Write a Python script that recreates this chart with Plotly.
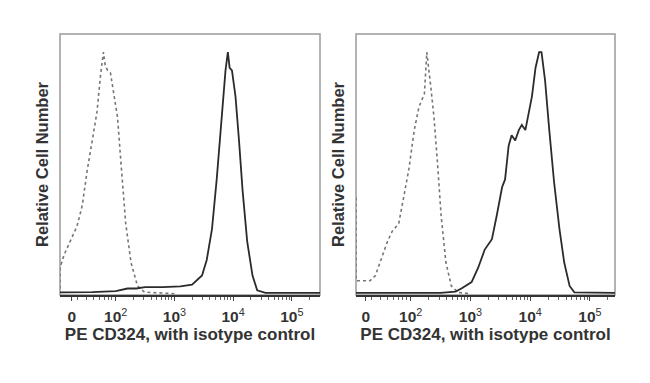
import plotly.graph_objects as go

# x positions in display decades (0 shown at ~1.25, 10^2 at 2, ... 10^5 at 5)
left_iso_x = [1.05, 1.051, 1.12, 1.22, 1.34, 1.43, 1.51, 1.60, 1.68, 1.74, 1.79, 1.82, 1.86, 1.91, 1.97, 2.03, 2.09, 2.17, 2.26, 2.37, 2.49, 2.7, 3.0]
left_iso_y = [0.02, 0.10, 0.15, 0.20, 0.26, 0.34, 0.47, 0.59, 0.70, 0.84, 0.93, 0.88, 0.86, 0.85, 0.77, 0.68, 0.50, 0.27, 0.12, 0.03, 0.006, 0.003, 0.0]

left_pe_x = [1.05, 1.6, 2.0, 2.2, 2.35, 2.5, 2.8, 3.1, 3.3, 3.35, 3.47, 3.55, 3.64, 3.72, 3.81, 3.87, 3.91, 3.94, 3.98, 4.04, 4.10, 4.16, 4.24, 4.33, 4.41, 4.55, 5.48]
left_pe_y = [0.005, 0.006, 0.01, 0.02, 0.02, 0.025, 0.025, 0.028, 0.035, 0.045, 0.07, 0.13, 0.25, 0.44, 0.68, 0.86, 0.93, 0.87, 0.86, 0.76, 0.59, 0.40, 0.20, 0.07, 0.013, 0.003, 0.003]

right_iso_x = [1.085, 1.086, 1.10, 1.32, 1.41, 1.49, 1.61, 1.69, 1.80, 1.89, 1.97, 2.06, 2.14, 2.23, 2.27, 2.34, 2.39, 2.45, 2.51, 2.59, 2.68, 2.79, 3.0]
right_iso_y = [0.37, 0.05, 0.05, 0.05, 0.07, 0.12, 0.20, 0.24, 0.27, 0.38, 0.48, 0.63, 0.72, 0.77, 0.93, 0.79, 0.68, 0.50, 0.30, 0.12, 0.03, 0.005, 0.0]

right_pe_x = [1.085, 2.5, 2.75, 2.85, 3.02, 3.13, 3.24, 3.36, 3.44, 3.53, 3.58, 3.64, 3.69, 3.75, 3.81, 3.86, 3.92, 3.98, 4.03, 4.09, 4.15, 4.19, 4.25, 4.32, 4.40, 4.49, 4.57, 4.66, 4.74, 5.42]
right_pe_y = [0.003, 0.003, 0.008, 0.02, 0.045, 0.10, 0.17, 0.21, 0.30, 0.41, 0.44, 0.57, 0.61, 0.59, 0.63, 0.65, 0.63, 0.70, 0.76, 0.87, 0.93, 0.93, 0.82, 0.63, 0.43, 0.25, 0.12, 0.03, 0.005, 0.003]

tick_vals = [1.25, 2, 3, 4, 5]
tick_text = ["<b>0</b>", "<b>10</b><sup>2</sup>", "<b>10</b><sup>3</sup>", "<b>10</b><sup>4</sup>", "<b>10</b><sup>5</sup>"]
minor_vals = [1.35, 1.5, 1.62, 1.72, 1.8, 1.87, 1.93] + [d + v for d in (2, 3, 4) for v in (0.301, 0.477, 0.602, 0.699, 0.778, 0.845, 0.903, 0.954)] + [5.301]

x_title = "PE CD324, with isotype control"
y_title = "Relative Cell Number"

fig = go.Figure()
dark = "#2b2b2b"
iso_col = "#767676"
fig.add_trace(go.Scatter(x=left_iso_x, y=left_iso_y, mode="lines", line=dict(color=iso_col, width=1.6, dash="dot"), xaxis="x", yaxis="y"))
fig.add_trace(go.Scatter(x=left_pe_x, y=left_pe_y, mode="lines", line=dict(color=dark, width=1.8), xaxis="x", yaxis="y"))
fig.add_trace(go.Scatter(x=right_iso_x, y=right_iso_y, mode="lines", line=dict(color=iso_col, width=1.6, dash="dot"), xaxis="x2", yaxis="y2"))
fig.add_trace(go.Scatter(x=right_pe_x, y=right_pe_y, mode="lines", line=dict(color=dark, width=1.8), xaxis="x2", yaxis="y2"))

font = dict(family="Liberation Sans, Arial, sans-serif", color="#333333")

def xaxis(domain, rng, anchor):
    return dict(domain=domain, range=rng, anchor=anchor, tickmode="array", tickvals=tick_vals, ticktext=tick_text,
                ticks="outside", ticklen=4, tickcolor="#444", tickwidth=1, showgrid=False, zeroline=False,
                showline=True, linecolor="#333", linewidth=1.5, mirror=False,
                tickfont=dict(size=15.5, **font), ticklabelstandoff=3,
                minor=dict(tickvals=minor_vals, ticks="outside", ticklen=3, tickcolor="#666", tickwidth=1, showgrid=False),
                title=dict(text="<b>" + x_title + "</b>", font=dict(size=17, **font), standoff=0))

def yaxis(domain, anchor):
    return dict(domain=domain, range=[-0.005, 1.0], anchor=anchor, showticklabels=False, ticks="", showgrid=False,
                zeroline=False, showline=False,
                title=dict(text="<b>" + y_title + "</b>", font=dict(size=16.5, **font), standoff=6))

ydom = [1 - 295 / 383, 1 - 34 / 383]
fig.update_layout(
    width=650, height=383, margin=dict(l=0, r=0, t=0, b=0),
    paper_bgcolor="white", plot_bgcolor="white", showlegend=False,
    xaxis=xaxis([60 / 650, 320 / 650], [1.05, 5.48], "y"),
    yaxis=yaxis(ydom, "x"),
    xaxis2=xaxis([356 / 650, 615 / 650], [1.085, 5.42], "y2"),
    yaxis2=yaxis(ydom, "x2"),
)
for xr, yr in (("x", "y"), ("x2", "y2")):
    fig.add_shape(type="rect", xref=xr + " domain", yref=yr + " domain", x0=0, x1=1, y0=0, y1=1,
                  line=dict(color="#9a9a9a", width=1.5), fillcolor="rgba(0,0,0,0)", layer="below")

fig.write_html("out.html", config={"displayModeBar": False}, post_script="document.body.style.margin='0px';")
